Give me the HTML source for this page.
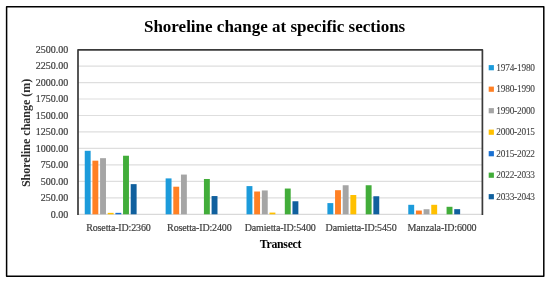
<!DOCTYPE html><html><head><meta charset="utf-8"><style>html,body{margin:0;padding:0;background:#fff;}svg{display:block}</style></head><body>
<svg width="550" height="282" viewBox="0 0 550 282">
<rect x="0" y="0" width="550" height="282" fill="#fff"/>
<line x1="78.0" x2="482.4" y1="66.07" y2="66.07" stroke="#DEDEDE" stroke-width="1.2"/>
<line x1="78.0" x2="482.4" y1="82.54" y2="82.54" stroke="#DEDEDE" stroke-width="1.2"/>
<line x1="78.0" x2="482.4" y1="99.01" y2="99.01" stroke="#DEDEDE" stroke-width="1.2"/>
<line x1="78.0" x2="482.4" y1="115.48" y2="115.48" stroke="#DEDEDE" stroke-width="1.2"/>
<line x1="78.0" x2="482.4" y1="131.95" y2="131.95" stroke="#DEDEDE" stroke-width="1.2"/>
<line x1="78.0" x2="482.4" y1="148.42" y2="148.42" stroke="#DEDEDE" stroke-width="1.2"/>
<line x1="78.0" x2="482.4" y1="164.89" y2="164.89" stroke="#DEDEDE" stroke-width="1.2"/>
<line x1="78.0" x2="482.4" y1="181.36" y2="181.36" stroke="#DEDEDE" stroke-width="1.2"/>
<line x1="78.0" x2="482.4" y1="197.83" y2="197.83" stroke="#DEDEDE" stroke-width="1.2"/>
<line x1="78.0" x2="482.4" y1="214.3" y2="214.3" stroke="#D0D0D0" stroke-width="1"/>
<rect x="84.75" y="150.79" width="5.9" height="63.51" fill="#1C9BDB"/>
<rect x="92.41" y="160.67" width="5.9" height="53.63" fill="#FF8024"/>
<rect x="100.07" y="158.17" width="5.9" height="56.13" fill="#A5A5A5"/>
<rect x="107.73" y="212.85" width="5.9" height="1.45" fill="#FFC000"/>
<rect x="115.39" y="212.85" width="5.9" height="1.45" fill="#1A70D2"/>
<rect x="123.05" y="155.73" width="5.9" height="58.57" fill="#42AD3A"/>
<rect x="130.71" y="184.13" width="5.9" height="30.17" fill="#10609E"/>
<rect x="165.63" y="178.40" width="5.9" height="35.90" fill="#1C9BDB"/>
<rect x="173.29" y="186.70" width="5.9" height="27.60" fill="#FF8024"/>
<rect x="180.95" y="174.57" width="5.9" height="39.73" fill="#A5A5A5"/>
<rect x="203.93" y="178.99" width="5.9" height="35.31" fill="#42AD3A"/>
<rect x="211.59" y="196.05" width="5.9" height="18.25" fill="#10609E"/>
<rect x="246.51" y="186.10" width="5.9" height="28.20" fill="#1C9BDB"/>
<rect x="254.17" y="191.51" width="5.9" height="22.79" fill="#FF8024"/>
<rect x="261.83" y="190.45" width="5.9" height="23.85" fill="#A5A5A5"/>
<rect x="269.49" y="212.59" width="5.9" height="1.71" fill="#FFC000"/>
<rect x="284.81" y="188.54" width="5.9" height="25.76" fill="#42AD3A"/>
<rect x="292.47" y="201.26" width="5.9" height="13.04" fill="#10609E"/>
<rect x="327.39" y="203.10" width="5.9" height="11.20" fill="#1C9BDB"/>
<rect x="335.05" y="190.19" width="5.9" height="24.11" fill="#FF8024"/>
<rect x="342.71" y="185.25" width="5.9" height="29.05" fill="#A5A5A5"/>
<rect x="350.37" y="195.00" width="5.9" height="19.30" fill="#FFC000"/>
<rect x="365.69" y="185.25" width="5.9" height="29.05" fill="#42AD3A"/>
<rect x="373.35" y="196.25" width="5.9" height="18.05" fill="#10609E"/>
<rect x="408.27" y="204.81" width="5.9" height="9.49" fill="#1C9BDB"/>
<rect x="415.93" y="210.54" width="5.9" height="3.76" fill="#FF8024"/>
<rect x="423.59" y="209.23" width="5.9" height="5.07" fill="#A5A5A5"/>
<rect x="431.25" y="204.81" width="5.9" height="9.49" fill="#FFC000"/>
<rect x="446.57" y="206.79" width="5.9" height="7.51" fill="#42AD3A"/>
<rect x="454.23" y="209.16" width="5.9" height="5.14" fill="#10609E"/>
<path d="M78.0,215.0 V49.9 H482.4 V215.0" fill="none" stroke="#3A3A3A" stroke-width="1.7" stroke-linejoin="round"/>
<rect x="6.6" y="6.7" width="537.2" height="269.6" fill="none" stroke="#000" stroke-width="1.5" stroke-linejoin="round"/>
<text x="274.6" y="31.6" text-anchor="middle" font-family="Liberation Serif, serif" font-weight="bold" font-size="17" fill="#000">Shoreline change at specific sections</text>
<text x="68.3" y="52.90" text-anchor="end" font-family="Liberation Serif, serif" font-size="10" fill="#404040" stroke="#404040" stroke-width="0.2">2500.00</text>
<text x="68.3" y="69.37" text-anchor="end" font-family="Liberation Serif, serif" font-size="10" fill="#404040" stroke="#404040" stroke-width="0.2">2250.00</text>
<text x="68.3" y="85.84" text-anchor="end" font-family="Liberation Serif, serif" font-size="10" fill="#404040" stroke="#404040" stroke-width="0.2">2000.00</text>
<text x="68.3" y="102.31" text-anchor="end" font-family="Liberation Serif, serif" font-size="10" fill="#404040" stroke="#404040" stroke-width="0.2">1750.00</text>
<text x="68.3" y="118.78" text-anchor="end" font-family="Liberation Serif, serif" font-size="10" fill="#404040" stroke="#404040" stroke-width="0.2">1500.00</text>
<text x="68.3" y="135.25" text-anchor="end" font-family="Liberation Serif, serif" font-size="10" fill="#404040" stroke="#404040" stroke-width="0.2">1250.00</text>
<text x="68.3" y="151.72" text-anchor="end" font-family="Liberation Serif, serif" font-size="10" fill="#404040" stroke="#404040" stroke-width="0.2">1000.00</text>
<text x="68.3" y="168.19" text-anchor="end" font-family="Liberation Serif, serif" font-size="10" fill="#404040" stroke="#404040" stroke-width="0.2">750.00</text>
<text x="68.3" y="184.66" text-anchor="end" font-family="Liberation Serif, serif" font-size="10" fill="#404040" stroke="#404040" stroke-width="0.2">500.00</text>
<text x="68.3" y="201.13" text-anchor="end" font-family="Liberation Serif, serif" font-size="10" fill="#404040" stroke="#404040" stroke-width="0.2">250.00</text>
<text x="68.3" y="217.60" text-anchor="end" font-family="Liberation Serif, serif" font-size="10" fill="#404040" stroke="#404040" stroke-width="0.2">0.00</text>
<text transform="translate(29.9,132.9) rotate(-90)" text-anchor="middle" font-family="Liberation Serif, serif" font-weight="bold" font-size="12" letter-spacing="0" fill="#2E2E2E">Shoreline change (m)</text>
<text x="118.44" y="230.8" text-anchor="middle" font-family="Liberation Serif, serif" font-size="10" letter-spacing="-0.15" fill="#404040" stroke="#404040" stroke-width="0.2">Rosetta-ID:2360</text>
<text x="199.32" y="230.8" text-anchor="middle" font-family="Liberation Serif, serif" font-size="10" letter-spacing="-0.15" fill="#404040" stroke="#404040" stroke-width="0.2">Rosetta-ID:2400</text>
<text x="280.20" y="230.8" text-anchor="middle" font-family="Liberation Serif, serif" font-size="10" letter-spacing="-0.15" fill="#404040" stroke="#404040" stroke-width="0.2">Damietta-ID:5400</text>
<text x="361.08" y="230.8" text-anchor="middle" font-family="Liberation Serif, serif" font-size="10" letter-spacing="-0.15" fill="#404040" stroke="#404040" stroke-width="0.2">Damietta-ID:5450</text>
<text x="441.96" y="230.8" text-anchor="middle" font-family="Liberation Serif, serif" font-size="10" letter-spacing="-0.15" fill="#404040" stroke="#404040" stroke-width="0.2">Manzala-ID:6000</text>
<text x="280.5" y="248.2" text-anchor="middle" font-family="Liberation Serif, serif" font-weight="bold" font-size="11.8" letter-spacing="-0.3" fill="#000">Transect</text>
<rect x="488.7" y="65.10" width="5.2" height="5.2" fill="#1C9BDB"/>
<text x="496.3" y="70.90" font-family="Liberation Serif, serif" font-size="9.3" letter-spacing="-0.2" fill="#404040" stroke="#404040" stroke-width="0.08">1974-1980</text>
<rect x="488.7" y="86.60" width="5.2" height="5.2" fill="#FF8024"/>
<text x="496.3" y="92.40" font-family="Liberation Serif, serif" font-size="9.3" letter-spacing="-0.2" fill="#404040" stroke="#404040" stroke-width="0.08">1980-1990</text>
<rect x="488.7" y="108.10" width="5.2" height="5.2" fill="#A5A5A5"/>
<text x="496.3" y="113.90" font-family="Liberation Serif, serif" font-size="9.3" letter-spacing="-0.2" fill="#404040" stroke="#404040" stroke-width="0.08">1990-2000</text>
<rect x="488.7" y="129.60" width="5.2" height="5.2" fill="#FFC000"/>
<text x="496.3" y="135.40" font-family="Liberation Serif, serif" font-size="9.3" letter-spacing="-0.2" fill="#404040" stroke="#404040" stroke-width="0.08">2000-2015</text>
<rect x="488.7" y="151.10" width="5.2" height="5.2" fill="#1A70D2"/>
<text x="496.3" y="156.90" font-family="Liberation Serif, serif" font-size="9.3" letter-spacing="-0.2" fill="#404040" stroke="#404040" stroke-width="0.08">2015-2022</text>
<rect x="488.7" y="172.60" width="5.2" height="5.2" fill="#42AD3A"/>
<text x="496.3" y="178.40" font-family="Liberation Serif, serif" font-size="9.3" letter-spacing="-0.2" fill="#404040" stroke="#404040" stroke-width="0.08">2022-2033</text>
<rect x="488.7" y="194.10" width="5.2" height="5.2" fill="#10609E"/>
<text x="496.3" y="199.90" font-family="Liberation Serif, serif" font-size="9.3" letter-spacing="-0.2" fill="#404040" stroke="#404040" stroke-width="0.08">2033-2043</text>
</svg></body></html>
